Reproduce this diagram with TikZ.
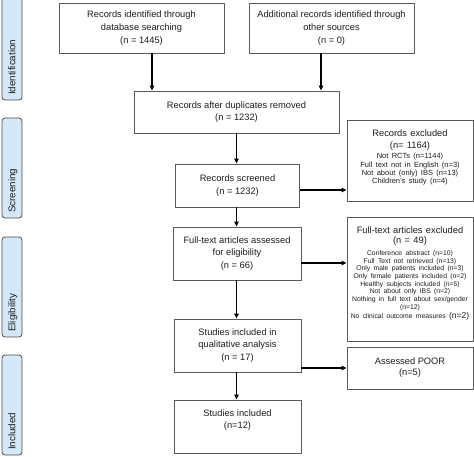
\documentclass[tikz,border=0pt]{standalone}
\usepackage{fontspec}
\setmainfont{Liberation Sans}
\usetikzlibrary{arrows.meta}
\definecolor{tabblue}{HTML}{D3E8F8}
\definecolor{boxgray}{HTML}{5A5A5A}
\definecolor{txtgray}{HTML}{1E1E1E}
\newcommand\mainf{\fontsize{9.3}{12.7}\selectfont}
\newcommand\hdrf{\fontsize{9.3}{12.3}\selectfont}
\newcommand\smlf{\fontsize{7.5}{8.3}\selectfont}
\newcommand\tinyf{\fontsize{6.8}{7.7}\selectfont}
\newcommand\tabf{\fontsize{9.8}{11}\selectfont}
\begin{document}
\begin{tikzpicture}[x=1pt,y=-1pt,
  box/.style={draw=boxgray, line width=0.9pt, inner sep=0pt, align=center,
    text=txtgray, font=\mainf},
  txt/.style={inner sep=0pt, align=center, text=txtgray},
  tabbox/.style={draw=black!70, fill=tabblue, line width=0.8pt, rounded corners=3pt,
    inner sep=0pt, minimum width=20pt},
  tablbl/.style={rotate=90, anchor=base west, inner sep=0pt, text=txtgray, font=\tabf},
  arr/.style={draw=black, line width=1.2pt, -{Triangle[length=5pt,width=4.5pt]}}]
\useasboundingbox (0,0) rectangle (474,456);
\fill[white] (0,0) rectangle (474,456);

% side tabs
\node[tabbox, minimum height=105pt] (t1) at (12,47.5) {};
\node[tabbox, minimum height=100pt] (t2) at (12,168) {};
\node[tabbox, minimum height=100pt] (t3) at (12,287) {};
\node[tabbox, minimum height=100pt] (t4) at (12,405) {};
\node[tablbl] (l1) at (15.4,95) {Identification};
\node[tablbl] (l2) at (15.4,213) {Screening};
\node[tablbl] (l3) at (15.4,332) {Eligibility};
\node[tablbl] (l4) at (15.4,450) {Included};

% main boxes
\node[box, minimum width=165pt, minimum height=50pt] (b1) at (141.5,28)
  {Records identified through\\database searching\\(n = 1445)};
\node[box, minimum width=165pt, minimum height=50pt] (b2) at (331.5,28)
  {Additional records identified through\\other sources\\(n = 0)};
\node[box, minimum width=205pt, minimum height=42pt] (b3) at (236.5,112)
  {Records after duplicates removed\\(n = 1232)};
\node[box, minimum width=124pt, minimum height=43pt] (scr) at (237.5,185.5)
  {Records screened\\(n = 1232)};
\node[box, minimum width=128pt, minimum height=53pt] (ft) at (237,253.5)
  {Full-text articles assessed\\for eligibility\\(n = 66)};
\node[box, minimum width=127pt, minimum height=53pt] (q) at (237.5,345.5)
  {Studies included in\\qualitative analysis\\(n = 17)};
\node[box, minimum width=127pt, minimum height=53pt] (inc) at (237.5,426.5)
  {Studies included\\(n=12)\\\phantom{(n=12)}};

% exclusion boxes
\node[box, minimum width=126pt, minimum height=81pt] (rx) at (410,160.5) {};
\node[box, minimum width=126pt, minimum height=124pt] (fx) at (410,279) {};
\node[box, minimum width=126pt, minimum height=42pt] (poor) at (410,368)
  {Assessed POOR\\[-1.6pt](n=5)};

\node[txt, anchor=north, text width=124pt] (rxt) at (410,129.5)
  {\hdrf Records excluded\\(n= 1164)\par\vspace{1.7pt}
   \smlf Not RCTs (n=1144)\\Full text not in English (n=3)\\Not about (only) IBS (n=13)\\Children's study (n=4)\par};
\node[txt, anchor=north, text width=124pt] (fxt) at (410,226.5)
  {\fontsize{9.3}{9.8}\selectfont Full-text articles excluded\\(n = 49)\par\vspace{4.5pt}
   \tinyf Conference abstract (n=10)\\Full Text not retrieved (n=13)\\Only male patients included (n=3)\\Only female patients included (n=2)\\Healthy subjects included (n=5)\\Not about only IBS (n=2)\\Nothing in full text about sex/gender\\(n=12)\\[1pt]No clinical outcome measures {\fontsize{8.5}{8.5}\selectfont (n=2)}\par};

% connectors
\draw[arr] ([xshift=10.5pt]b1.south) -- ([xshift=10.5pt]b1.south |- b3.north);
\draw[arr] ([xshift=-10.5pt]b2.south) -- ([xshift=-10.5pt]b2.south |- b3.north);
\draw[arr] (b3.south) -- (b3.south |- scr.north);
\draw[arr] (b3.south |- scr.south) -- (b3.south |- ft.north);
\draw[arr] (b3.south |- ft.south) -- (b3.south |- q.north);
\draw[arr] (b3.south |- q.south) -- (b3.south |- inc.north);
\draw[arr] ([yshift=-4.5pt]scr.east) -- ([yshift=-4.5pt]scr.east -| rx.west);
\draw[arr] ([yshift=-9.5pt]ft.east) -- ([yshift=-9.5pt]ft.east -| fx.west);
\draw[arr] (q.east |- poor.west) -- (poor.west);
\end{tikzpicture}
\end{document}
